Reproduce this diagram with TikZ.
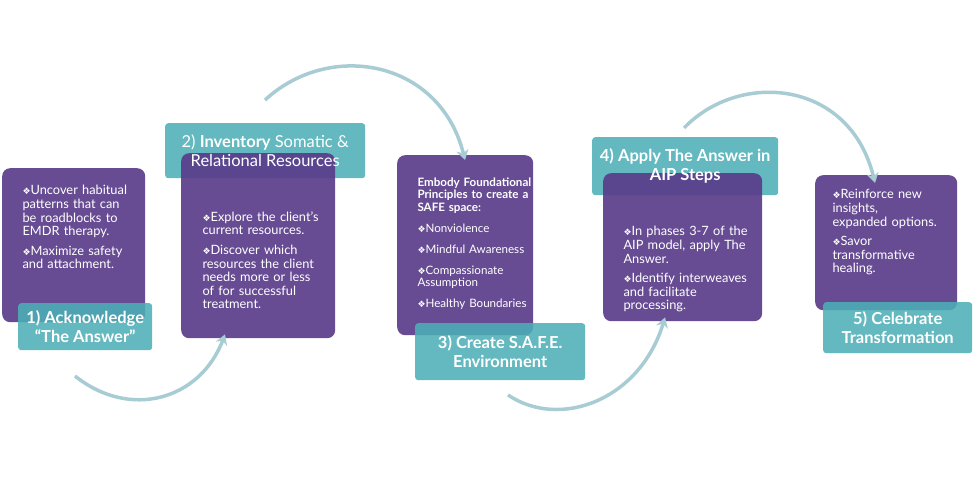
\documentclass[tikz,border=0pt]{standalone}
\usepackage{fontspec}
\setmainfont{Lato}
\newfontfamily\symfont{DejaVu Sans}
\usetikzlibrary{arrows.meta,positioning}
\definecolor{stepviolet}{HTML}{5A3D8A}
\definecolor{stepteal}{HTML}{4DAFB6}
\definecolor{flowblue}{HTML}{A8CCD4}
\newcommand{\bul}{{\symfont\small ❖}}
\tikzset{
	panel/.style={fill=stepviolet, fill opacity=0.92, rounded corners=8pt, anchor=north west, inner sep=0pt},
	tab/.style={fill=stepteal, fill opacity=0.88, rounded corners=3pt, anchor=north west, inner sep=0pt},
	title/.style={text=white, align=center, font=\bfseries\fontsize{16.5}{19}\selectfont},
	body/.style={text=white, align=left, anchor=north west, font=\fontsize{12.8}{13.6}\selectfont},
	flow/.style={draw=flowblue, line width=3.5pt, -{Stealth[length=10pt,width=12pt]}}
}
\begin{document}
\begin{tikzpicture}[x=1pt,y=-1pt]
\useasboundingbox (0,0) rectangle (980,492);

% step 1
\node[panel, minimum width=143pt, minimum height=154pt] (p1) at (2,168) {};
\node[tab, minimum width=134pt, minimum height=47pt] (t1) at (18,303) {};
\node[title] (l1) at (t1.center) {1) Acknowledge\\``The Answer''};
\node[body, text width=125pt] (b1) at (19,182)
	{\bul Uncover habitual\\patterns that can\\be roadblocks to\\EMDR therapy.\\[6pt]\bul Maximize safety\\and attachment.};

% step 2
\node[tab, minimum width=200pt, minimum height=55pt] (t2) at (165,123) {};
\node[panel, minimum width=154pt, minimum height=185pt] (p2) at (181,153) {};
\node[title, font=\fontsize{16.5}{19}\selectfont] (l2) at (t2.center) {2) \textbf{Inventory} Somatic \&\\Relational Resources};
\node[body, text width=150pt] (b2) at (199,208)
	{\bul Explore the client's\\current resources.\\[6pt]\bul Discover which\\resources the client\\needs more or less\\of for successful\\treatment.};

% step 3
\node[panel, minimum width=136pt, minimum height=180pt] (p3) at (397,155) {};
\node[tab, minimum width=170pt, minimum height=57pt] (t3) at (415,323) {};
\node[title] (l3) at (t3.center) {3) Create S.A.F.E.\\Environment};
\node[body, text width=135pt, font=\fontsize{11.6}{12.8}\selectfont] (b3) at (414,174)
	{\textbf{Embody Foundational}\\\textbf{Principles to create a}\\\textbf{SAFE space:}\\[8pt]\bul Nonviolence\\[8pt]\bul Mindful Awareness\\[8pt]\bul Compassionate\\Assumption\\[8pt]\bul Healthy Boundaries};

% step 4
\node[tab, minimum width=186pt, minimum height=58pt] (t4) at (592,137) {};
\node[panel, minimum width=159pt, minimum height=148pt] (p4) at (603,173) {};
\node[title] (l4) at (t4.center) {4) Apply The Answer in\\AIP Steps};
\node[body, text width=150pt] (b4) at (620,223)
	{\bul In phases 3-7 of the\\AIP model, apply The\\Answer.\\[6pt]\bul Identify interweaves\\and facilitate\\processing.};

% step 5
\node[panel, minimum width=142pt, minimum height=135pt] (p5) at (815,175) {};
\node[tab, minimum width=149pt, minimum height=51pt] (t5) at (823,302) {};
\node[title] (l5) at (t5.center) {5) Celebrate\\Transformation};
\node[body, text width=135pt] (b5) at (829,186)
	{\bul Reinforce new\\insights,\\expanded options.\\[6pt]\bul Savor\\transformative\\healing.};

% connectors
\coordinate (c1) at (75,376);
\coordinate (c2) at (265,100);
\coordinate (c3) at (508,395);
\coordinate (c4) at (684,128);
\draw[flow] (c1) .. controls (130,420) and (200,400) .. ([xshift=44pt,yshift=4pt]p2.south west);
\draw[flow] (c2) .. controls (330,40) and (440,60) .. ([xshift=68pt,yshift=-5pt]p3.north west);
\draw[flow] (c3) .. controls (560,430) and (640,400) .. ([xshift=62pt,yshift=4pt]p4.south west);
\draw[flow] (c4) .. controls (740,70) and (850,80) .. ([xshift=60pt,yshift=-8pt]p5.north west);
\end{tikzpicture}
\end{document}
